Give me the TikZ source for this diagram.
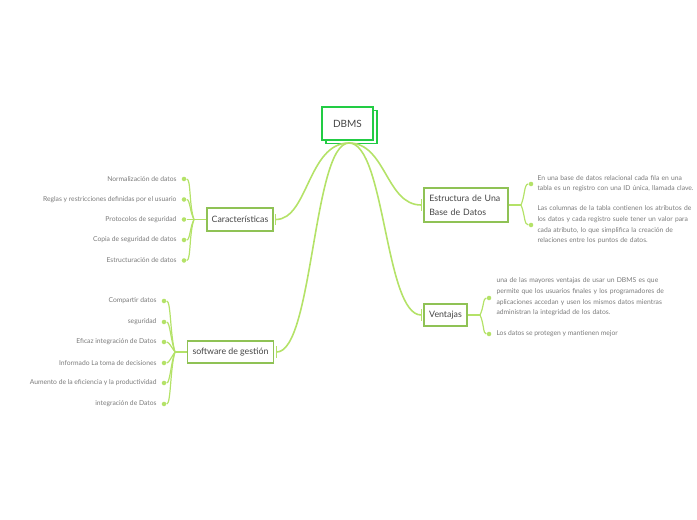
\documentclass[tikz,border=0pt]{standalone}
\usepackage{fontspec}
\setmainfont{Lato}
\usepackage{tikz}
\definecolor{rootgreen}{HTML}{22CC44}
\definecolor{boxgreen}{HTML}{8FC255}
\definecolor{branchgreen}{HTML}{B4E268}
\definecolor{leafgray}{HTML}{7A7A7A}
\definecolor{titlegray}{HTML}{454545}
\tikzset{every picture/.style={line width=0.75pt}}
\tikzset{
  rootbox/.style={draw=rootgreen,line width=1.2pt,fill=white,minimum width=38.25pt,minimum height=24.75pt,inner sep=0pt},
  topicbox/.style={draw=boxgreen,line width=0.9pt,fill=white,inner sep=0pt,align=left,text=titlegray,font=\fontsize{6.6}{10.5}\selectfont},
  leaftext/.style={inner sep=0pt,text=leafgray,font=\fontsize{5.05}{8}\selectfont,align=left},
  leafdot/.style={circle,fill=branchgreen,inner sep=0pt,minimum size=3.4pt},
  mainline/.style={draw=branchgreen,line width=1.2pt,-|,shorten >=0.8pt},
  stemline/.style={draw=branchgreen,line width=1.4pt},
  subline/.style={draw=branchgreen,line width=0.9pt},
}

\begin{document}
\begin{tikzpicture}[x=0.75pt,y=0.75pt,yscale=-1,xscale=1]
\useasboundingbox (0,0) rectangle (697,520);
% root
\node [rootbox] (rootback) at (351.5,127) {};
\node [rootbox] (root) at (347.5,123.5) {\fontsize{7.5}{9}\selectfont\color{titlegray}DBMS};
\coordinate (rootJ) at (349,143);
% main topics
\node [topicbox,minimum width=49.5pt,minimum height=17.25pt,align=center] (caract) at (240,219.5) {Características};
\node [topicbox,minimum width=65pt,minimum height=16.5pt,align=center] (software) at (230.5,352) {software de gestión};
\node [topicbox,minimum width=63pt,minimum height=25.5pt,text width=55pt] (estructura) at (466,205) {Estructura de Una\\Base de Datos};
\node [topicbox,minimum width=32.25pt,minimum height=16.5pt,align=center] (ventajas) at (445.5,315) {Ventajas};
% root to topics
\draw [mainline] (rootJ) .. controls (308,143) and (308,219.5) .. (caract.east);
\draw [mainline] (rootJ) .. controls (313,143) and (313,352) .. (software.east);
\draw [mainline] (rootJ) .. controls (386,143) and (386,205) .. (estructura.west);
\draw [mainline] (rootJ) .. controls (385,143) and (385,315) .. (ventajas.west);
% junctions
\coordinate (caractJ) at (194,219.5);
\coordinate (softwareJ) at (175,352);
\coordinate (estructuraJ) at (521,205);
\coordinate (ventajasJ) at (480,315);
\draw [stemline] (caract.west) -- (caractJ);
\draw [stemline] (software.west) -- (softwareJ);
\draw [stemline] (estructura.east) -- (estructuraJ);
\draw [stemline] (ventajas.east) -- (ventajasJ);
% left leaves
\node [leafdot] (c1) at (184,179) {};
\node [leafdot] (c2) at (184,199.5) {};
\node [leafdot] (c3) at (184,219.5) {};
\node [leafdot] (c4) at (184,240) {};
\node [leafdot] (c5) at (184,260.5) {};
\node [leaftext,anchor=east] (c1t) at (177,179) {Normalización de datos};
\node [leaftext,anchor=east] (c2t) at (177,199.5) {Reglas y restricciones definidas por el usuario};
\node [leaftext,anchor=east] (c3t) at (177,219.5) {Protocolos de seguridad};
\node [leaftext,anchor=east] (c4t) at (177,240) {Copia de seguridad de datos};
\node [leaftext,anchor=east] (c5t) at (177,260.5) {Estructuración de datos};
\draw [subline] (caractJ) .. controls +(-5,-14) and +(7,0) .. (c1);
\draw [subline] (caractJ) .. controls +(-4,-7) and +(6,0) .. (c2);
\draw [subline] (caractJ) -- (c3);
\draw [subline] (caractJ) .. controls +(-4,7) and +(6,0) .. (c4);
\draw [subline] (caractJ) .. controls +(-5,14) and +(7,0) .. (c5);
\node [leafdot] (s1) at (164,301) {};
\node [leafdot] (s2) at (164,322) {};
\node [leafdot] (s3) at (164,342) {};
\node [leafdot] (s4) at (164,363) {};
\node [leafdot] (s5) at (164,383) {};
\node [leafdot] (s6) at (164,404) {};
\node [leaftext,anchor=east] (s1t) at (157,301) {Compartir datos};
\node [leaftext,anchor=east] (s2t) at (157,322) {seguridad};
\node [leaftext,anchor=east] (s3t) at (157,342) {Eficaz integración de Datos};
\node [leaftext,anchor=east] (s4t) at (157,363) {Informado La toma de decisiones};
\node [leaftext,anchor=east] (s5t) at (157,383) {Aumento de la eficiencia y la productividad};
\node [leaftext,anchor=east] (s6t) at (157,404) {integración de Datos};
\draw [subline] (softwareJ) .. controls +(-5,-17) and +(7,0) .. (s1);
\draw [subline] (softwareJ) .. controls +(-4,-10) and +(6,0) .. (s2);
\draw [subline] (softwareJ) .. controls +(-3,-4) and +(5,0) .. (s3);
\draw [subline] (softwareJ) .. controls +(-3,4) and +(5,0) .. (s4);
\draw [subline] (softwareJ) .. controls +(-4,10) and +(6,0) .. (s5);
\draw [subline] (softwareJ) .. controls +(-5,17) and +(7,0) .. (s6);
% right leaves
\node [leafdot] (e1) at (531,184) {};
\node [leafdot] (e2) at (531,225) {};
\node [leaftext,anchor=west,text width=125pt] (e1t) at (537,183.5) {En una base de datos relacional cada fila en una\\tabla es un registro con una ID única, llamada clave.};
\node [leaftext,anchor=west,text width=125pt] (e2t) at (537,225) {Las columnas de la tabla contienen los atributos de\\los datos y cada registro suele tener un valor para\\cada atributo, lo que simplifica la creación de\\relaciones entre los puntos de datos.};
\draw [subline] (estructuraJ) .. controls +(4,-9) and +(-7,0) .. (e1);
\draw [subline] (estructuraJ) .. controls +(4,9) and +(-7,0) .. (e2);
\node [leafdot] (v1) at (489,298) {};
\node [leafdot] (v2) at (489,334) {};
\node [leaftext,anchor=west,text width=135pt] (v1t) at (496,297) {una de las mayores ventajas de usar un DBMS es que\\permite que los usuarios finales y los programadores de\\aplicaciones accedan y usen los mismos datos mientras\\administran la integridad de los datos.};
\node [leaftext,anchor=west] (v2t) at (496,334) {Los datos se protegen y mantienen mejor};
\draw [subline] (ventajasJ) .. controls +(4,-8) and +(-6,0) .. (v1);
\draw [subline] (ventajasJ) .. controls +(4,8) and +(-6,0) .. (v2);
\end{tikzpicture}
\end{document}
